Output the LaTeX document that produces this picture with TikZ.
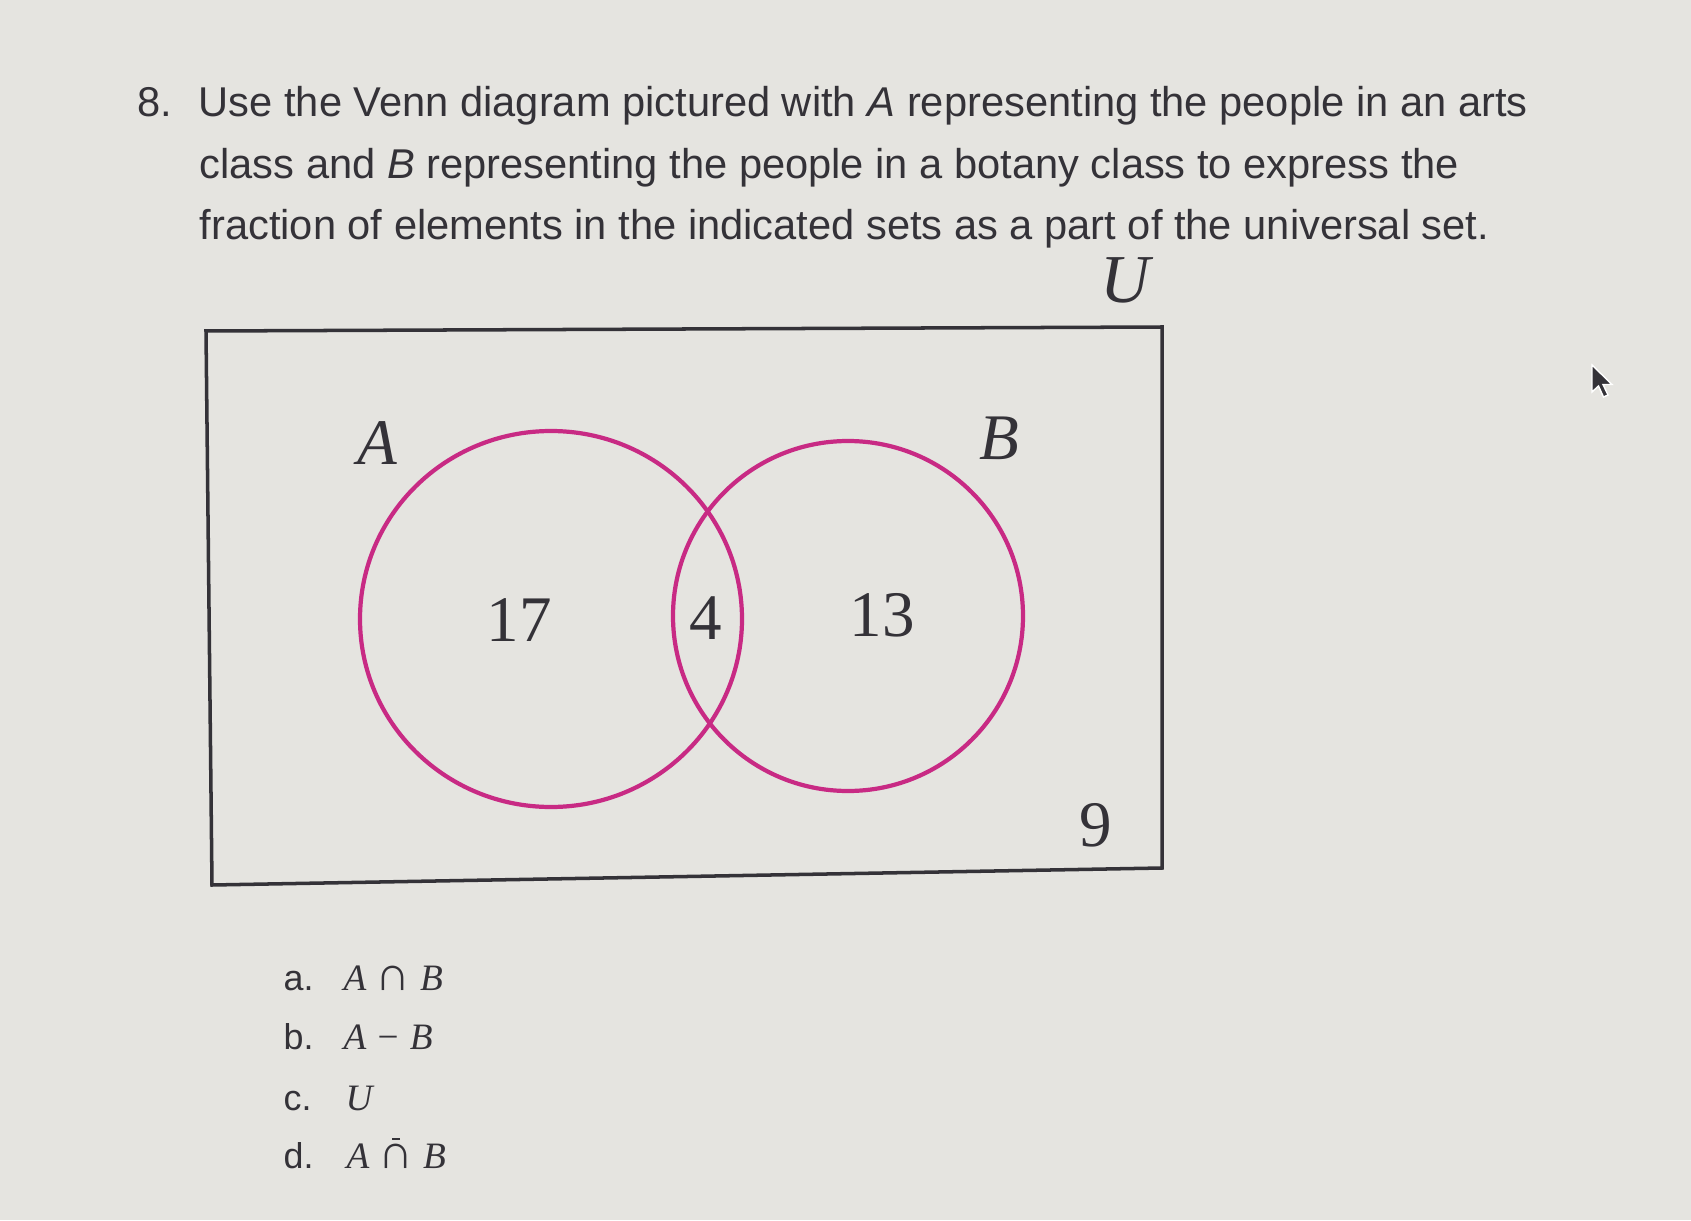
\documentclass[tikz,border=0pt]{standalone}
\usepackage{graphicx}
\usepackage{fontspec}
\setmainfont{Liberation Sans}
\newfontfamily\vennfont{Liberation Serif}

\definecolor{paper}{RGB}{229,228,224}
\definecolor{ink}{RGB}{52,50,56}
\definecolor{vennpink}{RGB}{200,42,132}

% intersection sign, and the same with a short bar on top
\newcommand\capsign{\scalebox{1.3}{∩}}
\newcommand\barcap{\ooalign{\capsign\cr\hidewidth\raisebox{.74em}{\rule{.22em}{.06em}}\hidewidth\cr}}
\newcommand\setv[1]{{\vennfont\itshape #1}}

\begin{document}
\begin{tikzpicture}[
        body/.style={anchor=base west,inner sep=0pt,text=ink,font=\fontsize{11.85}{14}\selectfont},
        setlabel/.style={inner sep=0pt,text=ink,font=\vennfont\itshape\fontsize{18.5}{20}\selectfont},
        count/.style={inner sep=0pt,text=ink,font=\vennfont\fontsize{18.5}{20}\selectfont},
        itemlabel/.style={anchor=base west,inner sep=0pt,text=ink,font=\fontsize{10.2}{12}\selectfont},
        itemset/.style={anchor=base west,inner sep=0pt,text=ink,font=\vennfont\fontsize{10.6}{12}\selectfont},
        venn/.style={draw=vennpink,line width=1.2pt},
    ]
        \def\W{16.91}                               % page width
        \def\H{12.20}                               % page height

        \def\xA{5.51}                               % centre of A
        \def\yA{6.01}
        \def\xB{8.48}                               % centre of B
        \def\yB{6.04}

        % The photographed page
        \fill[paper] (0,0) rectangle (\W,\H);
        \useasboundingbox (0,0) rectangle (\W,\H);

        % Question text, one node per line
        \node[body] (num)   at (1.37,11.03) {8.};
        \node[body] (line1) at (1.98,11.03) {Use the Venn diagram pictured with \textit{A} representing the people in an arts};
        \node[body] (line2) at (1.99,10.41) {class and \textit{B} representing the people in a botany class to express the};
        \node[body] (line3) at (1.99,9.80)  {fraction of elements in the indicated sets as a part of the universal set.};

        % The universal set (slightly skewed, as photographed)
        \draw[ink,line width=1pt] (2.06,8.89) -- (11.62,8.93) -- (11.62,3.52) -- (2.12,3.35) -- cycle;
        \node[setlabel,font=\vennfont\itshape\fontsize{19.5}{21}\selectfont] (labU) at (11.25,9.40) {U};

        % The two sets
        \draw[venn] (\xA,\yA) ellipse (1.91 and 1.88);
        \draw[venn] (\xB,\yB) ellipse (1.75 and 1.75);
        \node[setlabel] (labA) at (3.77,7.77) {A};
        \node[setlabel] (labB) at (9.99,7.82) {B};

        % Number of elements in each region
        \node[count] (nA)  at (5.19,6.00) {17};
        \node[count] (nAB) at (7.06,6.02) {4};
        \node[count] (nB)  at (8.82,6.05) {13};
        \node[count] (nU)  at (10.96,3.95) {9};

        % The sets asked for
        \node[itemlabel] (ia) at (2.83,2.30) {a.};
        \node[itemset]   (sa) at (3.43,2.30) {\setv{A}\hspace{.25em}\capsign\hspace{.25em}\setv{B}};
        \node[itemlabel] (ib) at (2.83,1.71) {b.};
        \node[itemset]   (sb) at (3.43,1.71) {\setv{A}\hspace{.3em}−\hspace{.3em}\setv{B}};
        \node[itemlabel] (ic) at (2.83,1.10) {c.};
        \node[itemset]   (sc) at (3.45,1.10) {\setv{U}};
        \node[itemlabel] (id) at (2.83,0.52) {d.};
        \node[itemset]   (sd) at (3.46,0.52) {\setv{A}\hspace{.25em}\barcap\hspace{.25em}\setv{B}};

        % Mouse pointer on the screen
        \fill[ink,draw=white,line width=0.4pt] (15.92,8.55) -- ++(0,-0.27) -- ++(0.065,0.06)
            -- ++(0.05,-0.11) -- ++(0.045,0.02) -- ++(-0.05,0.105) -- ++(0.09,0) -- cycle;
\end{tikzpicture}
\end{document}
